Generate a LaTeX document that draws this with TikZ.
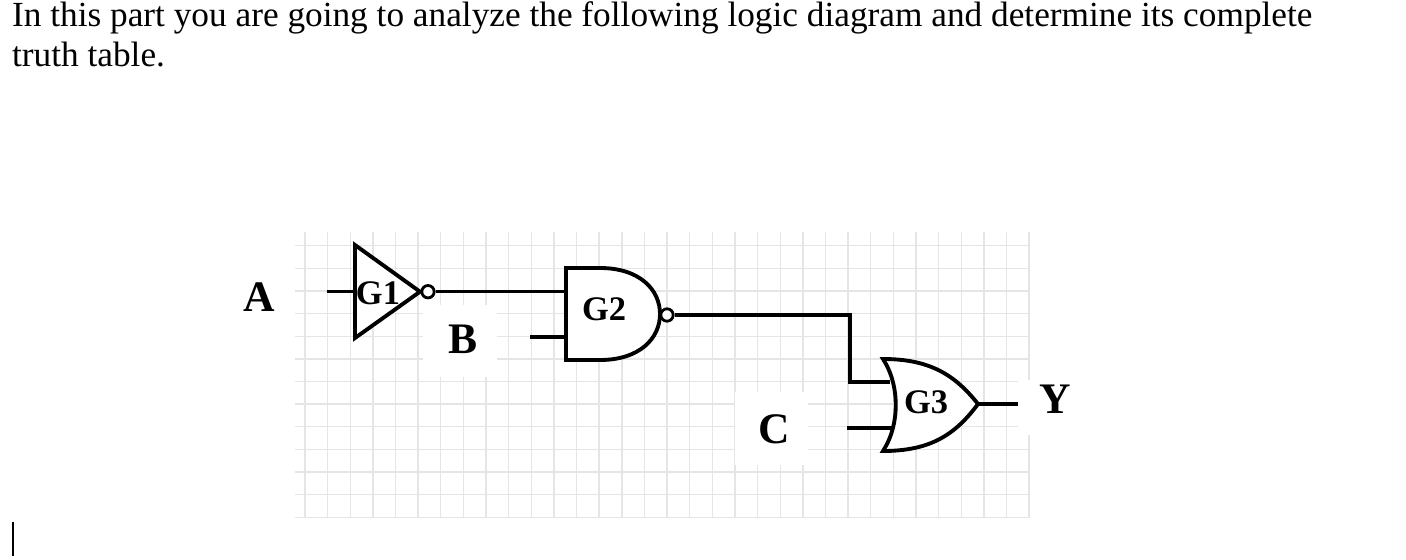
\documentclass[tikz,border=0pt]{standalone}
\usepackage{fontspec}
\setmainfont{Liberation Serif}
\usepackage{tikz}

\begin{document}
\begin{tikzpicture}[x=0.05cm, y=-0.05cm]
    \tikzstyle{bodytext} = [anchor=base west, inner sep=0pt, font=\fontsize{50.2}{54}\selectfont]
    \tikzstyle{siglabel} = [inner sep=0pt, font=\fontsize{62}{64}\selectfont\bfseries]
    \tikzstyle{gatelabel} = [inner sep=0pt, font=\fontsize{49}{52}\selectfont\bfseries]
    \tikzstyle{gatebody} = [line width=5.5pt, line join=miter, fill=white]
    \tikzstyle{sigwire} = [line width=5pt]
    \tikzstyle{invbub} = [circle, draw, line width=4pt, fill=white, inner sep=0pt, minimum size=0.62cm]
    \tikzstyle{gridline} = [black!10, line width=2pt]
    \useasboundingbox (0,0) rectangle (1406,560);

    % text
    \node[bodytext] (line1) at (12,27) {In this part you are going to analyze the following logic diagram and determine its complete};
    \node[bodytext] (line2) at (12,67) {truth table.};
    \draw[line width=3pt] (13,522) -- (13,556);

    % grid
    \foreach \x in {0,...,32} {
        \draw[gridline] (305+22.63*\x,232) -- (305+22.63*\x,518);
    }
    \foreach \y in {0,...,12} {
        \draw[gridline] (295,245.7+22.63*\y) -- (1030,245.7+22.63*\y);
    }
    % patches over the grid
    \fill[white] (423,305) rectangle (497,377);
    \fill[white] (735,392) rectangle (808,465);
    \fill[white] (1018,380) rectangle (1031,435);

    % G1
    \coordinate (g1in) at (355,291.7);
    \coordinate (ain) at (327,291.7);
    \draw[gatebody] (355,245) -- (420,291.7) -- (355,338) -- cycle;
    \node[invbub] (g1out) at (428,291.7) {};
    \node[gatelabel] (g1) at (378,293) {G1};

    % G2
    \coordinate (g2a) at (566,291.7);
    \coordinate (g2b) at (566,337);
    \coordinate (bin) at (530,337);
    \draw[gatebody] (566,268) -- (600,268) .. controls (640,268) and (660,290) .. (660,314)
        .. controls (660,338) and (640,360) .. (600,360) -- (566,360) -- cycle;
    \node[invbub] (g2out) at (667,315) {};
    \node[gatelabel] (g2) at (604,309) {G2};

    % G3
    \coordinate (g3a) at (890,382);
    \coordinate (g3b) at (892,428);
    \coordinate (cin) at (847,428);
    \coordinate (g3out) at (978,404);
    \coordinate (yout) at (1018,404);
    \coordinate (bend1) at (850,315);
    \coordinate (bend2) at (850,382);
    \draw[gatebody] (883,359) .. controls (930,359) and (955,375) .. (g3out)
        .. controls (955,435) and (930,451) .. (883,451)
        .. controls (900,425) and (900,385) .. (883,359) -- cycle;
    \node[gatelabel] (g3) at (926,402) {G3};

    % wires
    \draw[sigwire] (ain) -- (g1in);
    \draw[sigwire] (g1out) -- (g2a);
    \draw[sigwire] (bin) -- (g2b);
    \draw[sigwire] (g2out) -- (bend1) -- (bend2) -- (g3a);
    \draw[sigwire] (cin) -- (g3b);
    \draw[sigwire] (g3out) -- (yout);

    % signals
    \node[siglabel] (a) at (259,297) {A};
    \node[siglabel] (b) at (463,339) {B};
    \node[siglabel] (c) at (774,429) {C};
    \node[siglabel] (y) at (1055,399) {Y};
\end{tikzpicture}
\end{document}
